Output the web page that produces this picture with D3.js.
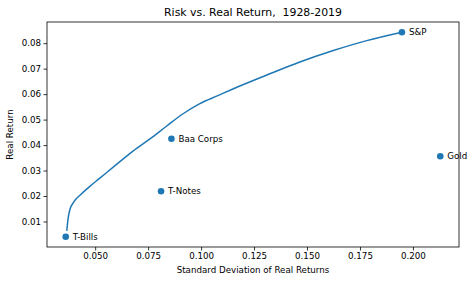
<!DOCTYPE html>
<html><head><meta charset="utf-8">
<script src="https://cdn.jsdelivr.net/npm/d3@7"></script>
<style>body{margin:0;background:#fff}svg{display:block}text{font-family:"DejaVu Sans",sans-serif;fill:#000}</style>
</head><body><svg id="c" width="474" height="282"></svg>
<script>
const assetNames = ["T-Bills", "T-Notes", "Baa Corps", "S&P", "Gold"];
const assetRisk = [0.0361, 0.0811, 0.0860, 0.1948, 0.2129];
const assetReturn = [0.0040, 0.0219, 0.0425, 0.0843, 0.0356];
const frontierRisk = [0.0366, 0.0372, 0.0380, 0.0400, 0.0432, 0.0475, 0.0519, 0.0598, 0.0677, 0.0760, 0.0835, 0.0913, 0.0992, 0.1079, 0.1150, 0.1308, 0.1466, 0.1624, 0.1782, 0.1948];
const frontierReturn = [0.0063, 0.0110, 0.0145, 0.0178, 0.0206, 0.0238, 0.0268, 0.0322, 0.0375, 0.0425, 0.0473, 0.0522, 0.0562, 0.0594, 0.0620, 0.0674, 0.0726, 0.0771, 0.0810, 0.0843];
const xTicks = [0.050, 0.075, 0.100, 0.125, 0.150, 0.175, 0.200];
const yTicks = [0.01, 0.02, 0.03, 0.04, 0.05, 0.06, 0.07, 0.08];

const svg = d3.select("#c");
const L = 47, R = 459, T = 22, B = 247;
const blue = "#1f77b4";

function padded(vals) {
  const [a, b] = d3.extent(vals); const p = (b - a) * 0.05; return [a - p, b + p];
}
const x = d3.scaleLinear().domain(padded(assetRisk.concat(frontierRisk))).range([L, R]);
const y = d3.scaleLinear().domain(padded(assetReturn.concat(frontierReturn))).range([B, T]);

const xAxis = svg.append("g").attr("transform", `translate(0,${B})`)
  .call(d3.axisBottom(x).tickValues(xTicks).tickFormat(d3.format(".3f")).tickSize(3.5).tickPadding(2.5));
const yAxis = svg.append("g").attr("transform", `translate(${L},0)`)
  .call(d3.axisLeft(y).tickValues(yTicks).tickFormat(d3.format(".2f")).tickSize(3.5).tickPadding(2.5));
[xAxis, yAxis].forEach(g => {
  g.select(".domain").remove();
  g.selectAll("line").attr("stroke", "#000").attr("stroke-width", 0.8);
  g.selectAll("text").attr("font-size", 8.7).attr("font-family", "DejaVu Sans").attr("fill", "#000");
});

const line = d3.line().curve(d3.curveMonotoneX)
  .x((d, i) => x(frontierRisk[i])).y((d, i) => y(frontierReturn[i]));
svg.append("path").datum(frontierRisk).attr("d", line)
  .attr("fill", "none").attr("stroke", blue).attr("stroke-width", 1.5);

const pts = svg.append("g");
pts.selectAll("circle").data(assetNames).join("circle")
  .attr("cx", (d, i) => x(assetRisk[i])).attr("cy", (d, i) => y(assetReturn[i]))
  .attr("r", 3.3).attr("fill", blue);
pts.selectAll("text").data(assetNames).join("text")
  .attr("x", (d, i) => x(assetRisk[i]) + 7).attr("y", (d, i) => y(assetReturn[i]))
  .attr("dy", "0.35em").attr("font-size", 8.7).text(d => d);

svg.append("rect").attr("x", L).attr("y", T).attr("width", R - L).attr("height", B - T)
  .attr("fill", "none").attr("stroke", "#000").attr("stroke-width", 0.8);

svg.append("text").attr("x", (L + R) / 2).attr("y", 16).attr("text-anchor", "middle")
  .attr("font-size", 10.9).text("Risk vs. Real Return,  1928-2019").style("white-space", "pre");
svg.append("text").attr("x", (L + R) / 2).attr("y", 273).attr("text-anchor", "middle")
  .attr("font-size", 8.7).text("Standard Deviation of Real Returns");
svg.append("text").attr("transform", `translate(13,${(T + B) / 2}) rotate(-90)`)
  .attr("text-anchor", "middle").attr("font-size", 8.7).text("Real Return");
</script></body></html>
